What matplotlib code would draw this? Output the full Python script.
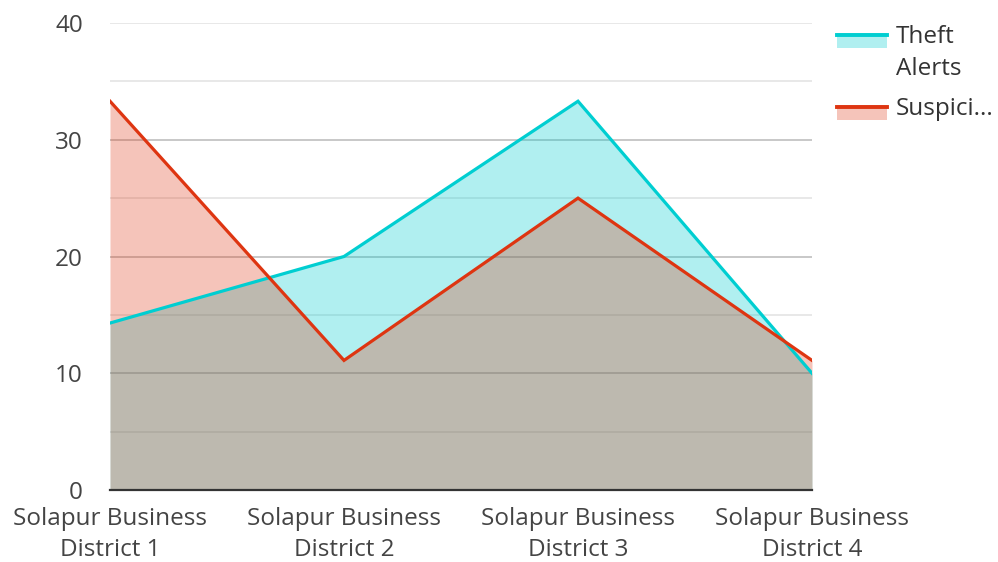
import matplotlib
matplotlib.use("Agg")
import matplotlib.pyplot as plt
from matplotlib.patches import Rectangle
from matplotlib.lines import Line2D

categories = ["Solapur Business\nDistrict 1", "Solapur Business\nDistrict 2",
              "Solapur Business\nDistrict 3", "Solapur Business\nDistrict 4"]
theft = [14.3, 20.0, 33.3, 10.0]
suspicious = [33.3, 11.1, 25.0, 11.1]
legend_labels = ["Theft\nAlerts", "Suspici..."]
yticks = [0, 10, 20, 30, 40]

c_theft = "#00CED1"
c_susp = "#DE3511"

plt.rcParams['font.family'] = ['Open Sans', 'DejaVu Sans']

W, H = 998, 562
fig = plt.figure(figsize=(W / 100, H / 100), dpi=100)
ax = fig.add_axes([110 / W, 1 - 490 / H, (812 - 110) / W, (490 - 23) / H])

x = list(range(len(categories)))
ax.fill_between(x, 0, theft, color=c_theft, alpha=0.31, linewidth=0, zorder=2)
ax.fill_between(x, 0, suspicious, color=c_susp, alpha=0.29, linewidth=0, zorder=3)
ax.plot(x, theft, color=c_theft, lw=2.3, zorder=5, solid_joinstyle='miter')
ax.plot(x, suspicious, color=c_susp, lw=2.3, zorder=6, solid_joinstyle='miter')

ax.set_xlim(0, len(categories) - 1)
ax.set_ylim(0, 40)
ax.set_yticks(yticks)
ax.set_xticks(x)
ax.set_xticklabels(categories)
for yv in [10, 20, 30]:
    ax.axhline(yv, color="#c4c4c4", lw=1.3, zorder=1)
for yv in [5, 15, 25, 35, 40]:
    ax.axhline(yv, color="#e6e6e6", lw=1.3, zorder=1)

for s in ["top", "right", "left"]:
    ax.spines[s].set_visible(False)
ax.spines["bottom"].set_color("#333333")
ax.spines["bottom"].set_linewidth(1.6)
ax.spines["bottom"].set_zorder(7)
ax.tick_params(axis='both', which='both', length=0, labelsize=17.5, colors="#444444")
ax.tick_params(axis='y', pad=19.5)
ax.tick_params(axis='x', pad=12)
for lab in ax.get_xticklabels():
    lab.set_linespacing(1.38)

# manual legend in pixel coordinates
def fx(px):
    return px / W

def fy(py):
    return 1 - py / H

items = [(c_theft, 0.31, legend_labels[0], 33), (c_susp, 0.29, legend_labels[1], 105)]
for col, al, lab, top in items:
    fig.add_artist(Rectangle((fx(837), fy(top + 14.5)), 50 / W, 14.5 / H,
                             transform=fig.transFigure, facecolor=col, alpha=al, linewidth=0))
    fig.add_artist(Line2D([fx(837), fx(887)], [fy(top + 2), fy(top + 2)],
                          transform=fig.transFigure, color=col, lw=2.8))
    fig.text(fx(896), fy(top - 8), lab, ha='left', va='top', fontsize=17.5,
             color="#333333", linespacing=1.45)

fig.savefig("out.png", dpi=100)
